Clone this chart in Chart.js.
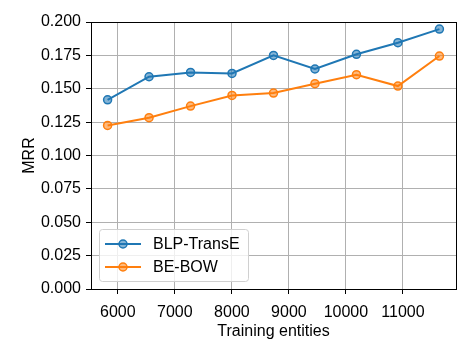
<!DOCTYPE html>
<html>
<head>
<meta charset="utf-8">
<script src="https://cdn.jsdelivr.net/npm/chart.js@4"></script>
<style>
  html, body { margin: 0; padding: 0; background: #fff; }
  #wrap { width: 474px; height: 354px; }
</style>
</head>
<body>
<div id="wrap"><canvas id="mrr-chart"></canvas></div>
<script>
const entities = [5820, 6547, 7275, 8002, 8730, 9457, 10185, 10912, 11640];
const blpTransE = [0.1417, 0.1590, 0.1622, 0.1615, 0.1750, 0.1648, 0.1758, 0.1845, 0.1947];
const beBow = [0.1225, 0.1283, 0.1370, 0.1450, 0.1468, 0.1538, 0.1605, 0.1520, 0.1745];
const xTicks = [6000, 7000, 8000, 9000, 10000, 11000];
const yTicks = [0, 0.025, 0.05, 0.075, 0.1, 0.125, 0.15, 0.175, 0.2];

const FONT = 'Liberation Sans, Arial, Helvetica, sans-serif';
Chart.defaults.font.family = FONT;
Chart.defaults.color = '#000';

function pts(ys) {
    return entities.map((x, i) => ({ x: x, y: ys[i] }));
}

// frame + legend drawn inside the plot, matplotlib style
const framePlugin = {
    id: 'frame',
    afterDraw(chart) {
        const { ctx, chartArea: a } = chart;
        ctx.save();
        ctx.strokeStyle = '#000';
        ctx.lineWidth = 1;
        ctx.strokeRect(Math.round(a.left) + 0.5, Math.round(a.top) + 0.5,
            Math.round(a.right - a.left), Math.round(a.bottom - a.top));

        // legend
        const bx = a.left + 8, by = a.bottom - 60, bw = 149, bh = 52;
        ctx.fillStyle = 'rgba(255,255,255,0.8)';
        ctx.strokeStyle = '#d0d0d0';
        ctx.beginPath();
        ctx.roundRect(bx + 0.5, by + 0.5, bw, bh, 3);
        ctx.fill();
        ctx.stroke();
        ctx.font = '16px ' + FONT;
        ctx.textBaseline = 'middle';
        chart.data.datasets.forEach((ds, i) => {
            const cy = by + 15 + i * 23;
            ctx.strokeStyle = ds.borderColor;
            ctx.lineWidth = 2;
            ctx.beginPath();
            ctx.moveTo(bx + 6, cy);
            ctx.lineTo(bx + 42, cy);
            ctx.stroke();
            ctx.beginPath();
            ctx.arc(bx + 24, cy, 4, 0, Math.PI * 2);
            ctx.fillStyle = ds.pointBackgroundColor;
            ctx.fill();
            ctx.lineWidth = 1.5;
            ctx.stroke();
            ctx.fillStyle = '#000';
            ctx.fillText(ds.label, bx + 54, cy + 1);
        });
        ctx.restore();
    }
};

var ctx = document.getElementById('mrr-chart').getContext('2d');
new Chart(ctx, {
    type: 'line',
    data: {
        datasets: [{
            label: 'BLP-TransE',
            data: pts(blpTransE),
            borderColor: '#1f77b4',
            backgroundColor: '#1f77b4',
            pointBackgroundColor: 'rgba(31,119,180,0.55)',
            pointBorderColor: '#1f77b4',
            borderWidth: 2,
            pointRadius: 4,
            pointBorderWidth: 1.5
        }, {
            label: 'BE-BOW',
            data: pts(beBow),
            borderColor: '#ff7f0e',
            backgroundColor: '#ff7f0e',
            pointBackgroundColor: 'rgba(255,127,14,0.55)',
            pointBorderColor: '#ff7f0e',
            borderWidth: 2,
            pointRadius: 4,
            pointBorderWidth: 1.5
        }]
    },
    options: {
        responsive: true,
        maintainAspectRatio: false,
        animation: false,
        layout: { padding: { left: 0, right: 18, top: 22, bottom: 0 } },
        plugins: {
            legend: { display: false },
            tooltip: { enabled: false }
        },
        scales: {
            x: {
                type: 'linear',
                min: 5529,
                max: 11931,
                afterBuildTicks: s => { s.ticks = xTicks.map(v => ({ value: v })); },
                afterFit: s => { s.height = 65; },
                ticks: {
                    font: { size: 16 },
                    padding: 9,
                    maxRotation: 0,
                    callback: v => String(v)
                },
                grid: { color: '#b0b0b0', tickColor: '#000', tickLength: 5, lineWidth: 1 },
                border: { display: true, color: '#000', width: 1 },
                title: { display: true, text: 'Training entities', font: { size: 16 }, padding: { top: 0, bottom: 13 } }
            },
            y: {
                min: 0,
                max: 0.2,
                afterBuildTicks: s => { s.ticks = yTicks.map(v => ({ value: v })); },
                afterFit: s => { s.width = 91; },
                ticks: {
                    font: { size: 16 },
                    padding: 5,
                    callback: v => v.toFixed(3)
                },
                grid: { color: '#b0b0b0', tickColor: '#000', tickLength: 5, lineWidth: 1 },
                border: { display: true, color: '#000', width: 1 },
                title: { display: true, text: 'MRR', font: { size: 16 }, padding: { top: 20, bottom: 0 } }
            }
        }
    },
    plugins: [framePlugin]
});
</script>
</body>
</html>
